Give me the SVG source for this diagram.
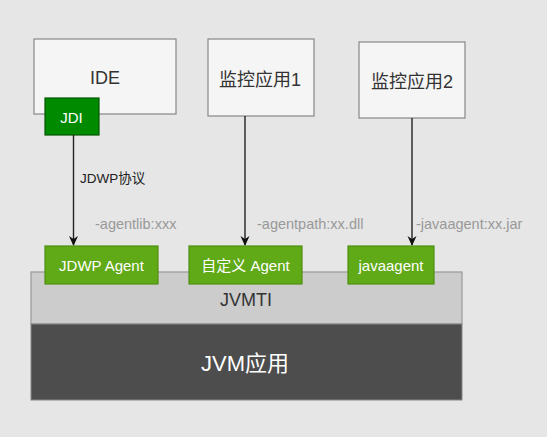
<svg xmlns="http://www.w3.org/2000/svg" width="547" height="437" viewBox="0 0 547 437">
<defs>
<marker id="arr" viewBox="0 0 10 10" refX="9" refY="5" markerWidth="10" markerHeight="10" markerUnits="userSpaceOnUse" orient="auto">
<path d="M0,0.5 L10,5 L0,9.5 L3,5 z" fill="#111"/>
</marker>
<style>
text{font-family:"Liberation Sans","Noto Sans CJK SC",sans-serif}
.app{fill:#f5f5f5;stroke:#888;stroke-width:1.2}
.agent{fill:#60a917;stroke:#4f8f12;stroke-width:1.2}
.t18{font-size:18px;fill:#333;text-anchor:middle;dominant-baseline:central}
.tw{font-size:15px;fill:#fff;text-anchor:middle;dominant-baseline:central}
.opt{font-size:14.5px;fill:#999;dominant-baseline:central}
.conn{stroke:#222;stroke-width:1.4;fill:none;marker-end:url(#arr)}
</style>
</defs>
<rect x="0" y="0" width="547" height="437" fill="#e6e6e6"/>
<g id="jvmti">
<rect x="31" y="272" width="431" height="52" fill="#cccccc" stroke="#999" stroke-width="1.2"/>
<text class="t18" x="246" y="300">JVMTI</text>
</g>
<g id="jvm">
<rect x="31" y="324" width="431" height="76" fill="#4d4d4d" stroke="#888" stroke-width="1"/>
<text x="245" y="363" font-size="22" fill="#fff" text-anchor="middle" dominant-baseline="central">JVM应用</text>
</g>
<g id="ide">
<rect class="app" x="34" y="39" width="142" height="75"/>
<text class="t18" x="105" y="78">IDE</text>
</g>
<g id="jdi">
<rect x="45" y="98" width="54" height="37" fill="#008a00" stroke="#005700" stroke-width="1.2"/>
<text class="tw" x="71.5" y="117">JDI</text>
</g>
<g id="mon1">
<rect class="app" x="208" y="39" width="106" height="77"/>
<text class="t18" x="260" y="80">监控应用1</text>
</g>
<g id="mon2">
<rect class="app" x="359" y="42" width="106" height="76"/>
<text class="t18" x="412" y="82">监控应用2</text>
</g>
<g id="connectors">
<line class="conn" x1="73.5" y1="135" x2="73.5" y2="245"/>
<line class="conn" x1="245" y1="116" x2="245" y2="245"/>
<line class="conn" x1="412" y1="118" x2="412" y2="245"/>
<text x="80" y="178" font-size="13.5" fill="#222" dominant-baseline="central">JDWP协议</text>
<text class="opt" x="95" y="224">-agentlib:xxx</text>
<text class="opt" x="257" y="224">-agentpath:xx.dll</text>
<text class="opt" x="416" y="224">-javaagent:xx.jar</text>
</g>
<g id="jdwp-agent">
<rect class="agent" x="45" y="246" width="113" height="38"/>
<text class="tw" x="101.5" y="265">JDWP Agent</text>
</g>
<g id="custom-agent">
<rect class="agent" x="189" y="246" width="113" height="38"/>
<text class="tw" x="245.5" y="265">自定义 Agent</text>
</g>
<g id="javaagent">
<rect class="agent" x="348" y="246" width="86" height="38"/>
<text class="tw" x="391" y="265">javaagent</text>
</g>
</svg>
